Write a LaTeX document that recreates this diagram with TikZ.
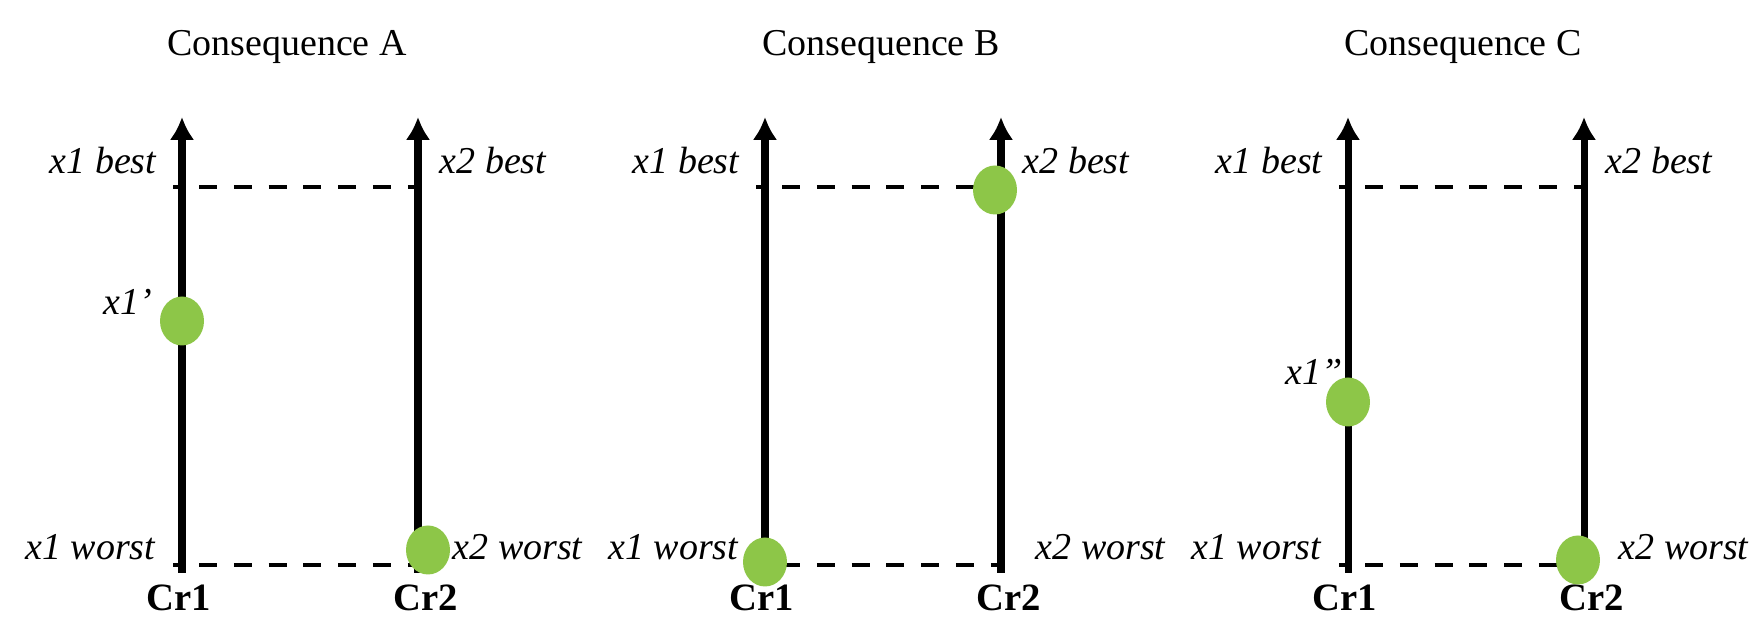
\documentclass[tikz,border=0pt]{standalone}
\usepackage{fontspec}
\setmainfont{Liberation Serif}
\usetikzlibrary{arrows.meta,shapes.geometric}
\definecolor{dotgreen}{RGB}{141,198,72}

\tikzset{
  axis/.style={line width=2pt},
  level/.style={line width=1.2pt, dash pattern=on 5.1pt off 4.8pt, dash phase=2.5pt},
  lbl/.style={inner sep=0pt, font=\fontsize{10.8}{13}\selectfont\itshape},
  crit/.style={inner sep=0pt, anchor=base, font=\fontsize{11}{13}\selectfont\bfseries},
  title/.style={inner sep=0pt, anchor=base, font=\fontsize{10.8}{13}\selectfont},
  dot/.style={ellipse, fill=dotgreen, inner sep=0pt, minimum width=0.44cm, minimum height=0.49cm}
}

\begin{document}
\begin{tikzpicture}[>={Latex[length=6.5pt,width=7pt]}]
\useasboundingbox (0,0) rectangle (17.49,6.44);

% the three panels
\foreach \n/\x/\tx/\lab in {a/1.82/1.05/A,b/7.65/1.16/B,c/13.48/1.15/C}{
  \coordinate (\n1lo) at (\x,0.71);
  \coordinate (\n1hi) at (\x,5.27);
  \coordinate (\n2lo) at (\x+2.36,0.71);
  \coordinate (\n2hi) at (\x+2.36,5.27);
  \coordinate (\n1best) at (\x-0.09,4.57);
  \coordinate (\n2best) at (\x+2.36,4.57);
  \coordinate (\n1worst) at (\x-0.09,0.79);
  \coordinate (\n2worst) at (\x+2.36,0.79);

  \draw[axis,->] (\n1lo)--(\n1hi);
  \draw[axis,->] (\n2lo)--(\n2hi);
  \draw[level] (\n1best)--(\n2best);
  \draw[level] (\n1worst)--(\n2worst);

  \node[title] (title-\n) at (\x+\tx,5.88){Consequence \lab};
  \node[lbl,anchor=base east] (\n-x1best) at (\x-0.25,4.70){x1 best};
  \node[lbl,anchor=base west] (\n-x2best) at (\x+2.57,4.70){x2 best};
  \node[lbl,anchor=base east] (\n-x1worst) at (\x-0.26,0.84){x1 worst};
  \node[lbl,anchor=base west] (\n-x2worst) at (\x+2.70,0.84){x2 worst};
  \node[crit] (\n-cr1) at (\x-0.03,0.33){Cr1};
  \node[crit] (\n-cr2) at (\x+2.44,0.33){Cr2};
}

% consequence A
\node[dot] (a-dot1) at (1.82,3.23){};
\node[dot] (a-dot2) at (4.28,0.94){};
\node[lbl,anchor=base east] (a-x1p) at (1.53,3.29){x1’};

% consequence B
\node[dot] (b-dot1) at (7.65,0.82){};
\node[dot] (b-dot2) at (9.95,4.54){};

% consequence C
\node[dot] (c-dot1) at (13.48,2.42){};
\node[dot] (c-dot2) at (15.78,0.84){};
\node[lbl,anchor=base east] (c-x1pp) at (13.43,2.59){x1”};

\end{tikzpicture}
\end{document}
